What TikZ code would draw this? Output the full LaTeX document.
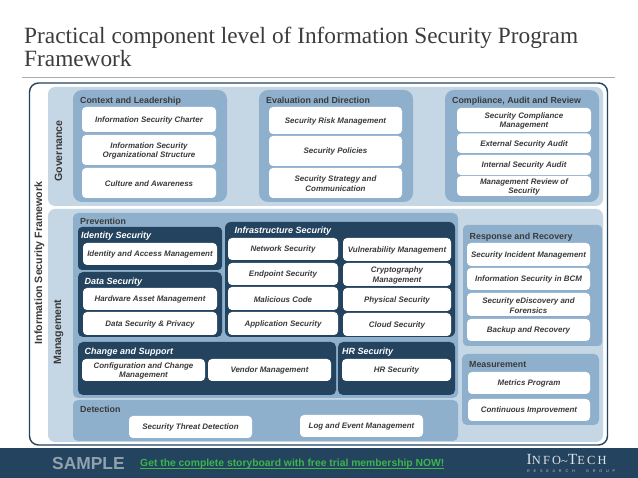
\documentclass[tikz,border=0pt]{standalone}
\usepackage{fontspec}
\setmainfont{Liberation Sans}
\newfontfamily\titlefont{Liberation Serif}
\newfontfamily\logofont[LetterSpace=18]{Liberation Serif}
\usetikzlibrary{positioning}
\definecolor{navy}{HTML}{23435E}
\definecolor{band}{HTML}{C5D6E5}
\definecolor{midblue}{HTML}{8FB0CD}
\definecolor{txt}{HTML}{3A3A3A}
\definecolor{ttl}{HTML}{3C3C3C}
\definecolor{linkgreen}{HTML}{3CB54A}
\tikzset{
  panel/.style={inner sep=0pt,outer sep=0pt,rounded corners=#1},
  panel/.default=6pt,
  itemtext/.style={font=\fontsize{7.95}{9.6}\selectfont\bfseries\itshape,text=txt,align=center},
  headtext/.style={font=\fontsize{8.85}{11}\selectfont\bfseries,text=txt,anchor=base west,inner sep=0pt},
  darkhead/.style={font=\fontsize{9}{11}\selectfont\bfseries\itshape,text=white,anchor=base west,inner sep=0pt},
  sidetext/.style={font=\fontsize{10.6}{12}\selectfont\bfseries,text=txt,rotate=90,inner sep=0pt},
}
% name, x0, y0, x1, y1, fill, radius
\newcommand{\rbox}[7]{\node[panel=#7,fill=#6,minimum width={((#4)-(#2))*1pt},minimum height={((#5)-(#3))*1pt}] (#1) at ({((#2)+(#4))/2},{((#3)+(#5))/2}) {};}
% name, x0, y0, x1, y1, text
\newcommand{\wbox}[6]{\node[panel=4pt,fill=white,minimum width={((#4)-(#2))*1pt},minimum height={((#5)-(#3))*1pt}] (#1) at ({((#2)+(#4))/2},{((#3)+(#5))/2}) {};
\node[itemtext] (#1t) at ([yshift=-0.9pt]#1.center) {#6};}
\begin{document}
\begin{tikzpicture}[x=1pt,y=-1pt]
\useasboundingbox (0,0) rectangle (638,478);
\fill[white] (0,0) rectangle (638,478);
% title
\node[font=\titlefont\fontsize{23.3}{27}\selectfont,text=ttl,anchor=base west,inner sep=0pt] (title1) at (24,43.5) {Practical component level of Information Security Program};
\node[font=\titlefont\fontsize{23.3}{27}\selectfont,text=ttl,anchor=base west,inner sep=0pt] (title2) at (24,66.5) {Framework};
\coordinate (ruleL) at (22,78);
\coordinate (ruleR) at (615,78);
\draw[color=black!33,line width=1pt] (ruleL) -- (ruleR);
% frame
\node[panel=9pt,draw=navy,line width=1.4pt,fill=white,minimum width=578pt,minimum height=362pt] (frame) at (318.5,264) {};
% bands
\rbox{gov}{48}{87}{603}{206}{band}{7pt}
\rbox{mgt}{48}{209}{603}{442}{band}{7pt}
\node[sidetext] (lblFramework) at (39.5,263) {Information Security Framework};
\node[sidetext] (lblGov) at (58.5,151) {Governance};
\node[sidetext] (lblMgt) at (58.5,332) {Management};
% governance panels
\rbox{ctx}{73}{90}{227}{202}{midblue}{9pt}
\rbox{eval}{259}{90}{413}{202}{midblue}{9pt}
\rbox{comp}{445}{90}{599}{202}{midblue}{9pt}
\node[headtext] (hCtx) at (80,103.4) {Context and Leadership};
\node[headtext] (hEval) at (266,103.4) {Evaluation and Direction};
\node[headtext] (hComp) at (452,103.4) {Compliance, Audit and Review};
\wbox{w1}{82}{107}{216}{132}{Information Security Charter}
\wbox{w2}{82}{135}{216}{165}{Information Security\\Organizational Structure}
\wbox{w3}{82}{168}{216}{198}{Culture and Awareness}
\wbox{w4}{269}{107}{402}{134}{Security Risk Management}
\wbox{w5}{269}{136}{402}{166}{Security Policies}
\wbox{w6}{269}{168}{402}{198}{Security Strategy and\\Communication}
\wbox{w7}{457}{108}{591}{132}{Security Compliance\\Management}
\wbox{w8}{457}{133.5}{591}{153}{External Security Audit}
\wbox{w9}{457}{155}{591}{175}{Internal Security Audit}
\wbox{w10}{457}{176}{591}{196}{Management Review of\\Security}
% prevention
\rbox{prev}{73}{213}{458}{398}{midblue}{5pt}
\rbox{det}{73}{400}{458}{441}{midblue}{5pt}
\node[headtext] (hPrev) at (80,224.4) {Prevention};
\node[headtext] (hDet) at (80,412.4) {Detection};
\rbox{idn}{78}{227}{222}{270}{navy}{4pt}
\rbox{dat}{78}{272}{222}{337}{navy}{5pt}
\rbox{inf}{225}{222}{455}{337}{navy}{6pt}
\rbox{chg}{78}{342}{336}{395}{navy}{5pt}
\rbox{hrs}{338}{342}{455}{395}{navy}{5pt}
\node[darkhead] (hIdn) at (81,238.5) {Identity Security};
\node[darkhead] (hDat) at (84.5,284.5) {Data Security};
\node[darkhead] (hInf) at (234.5,234) {Infrastructure Security};
\node[darkhead] (hChg) at (84.5,354.5) {Change and Support};
\node[darkhead] (hHrs) at (342,354.5) {HR Security};
\wbox{w11}{83}{243}{217}{265}{Identity and Access Management}
\wbox{w12}{83}{288}{217}{310}{Hardware Asset Management}
\wbox{w13}{83}{312}{217}{335}{Data Security \& Privacy}
\wbox{w14}{228}{238}{338}{260}{Network Security}
\wbox{w15}{228}{263}{338}{285}{Endpoint Security}
\wbox{w16}{228}{287}{338}{310}{Malicious Code}
\wbox{w17}{228}{312}{338}{335}{Application Security}
\wbox{w18}{343}{238}{451}{261}{Vulnerability Management}
\wbox{w19}{343}{263}{451}{286}{Cryptography\\Management}
\wbox{w20}{343}{288}{451}{311}{Physical Security}
\wbox{w21}{343}{313}{451}{336}{Cloud Security}
\wbox{w22}{82}{359}{205}{381}{Configuration and Change\\Management}
\wbox{w23}{208}{359}{331}{381}{Vendor Management}
\wbox{w24}{342}{359}{451}{381}{HR Security}
\wbox{w25}{129}{416}{252}{438}{Security Threat Detection}
\wbox{w26}{300}{415}{423}{437}{Log and Event Management}
% response
\rbox{resp}{463}{225}{602}{346}{midblue}{4pt}
\rbox{meas}{462}{354}{599}{425}{midblue}{5pt}
\node[headtext] (hResp) at (469.5,239.4) {Response and Recovery};
\node[headtext] (hMeas) at (469,367.9) {Measurement};
\wbox{w27}{467}{243}{590}{266}{Security Incident Management}
\wbox{w28}{467}{268}{590}{290}{Information Security in BCM}
\wbox{w29}{467}{293}{590}{316}{Security eDiscovery and\\Forensics}
\wbox{w30}{467}{319}{590}{341}{Backup and Recovery}
\wbox{w31}{468}{372}{590}{394}{Metrics Program}
\wbox{w32}{468}{399}{590}{421}{Continuous Improvement}
% footer
\rbox{foot}{0}{448}{638}{478}{navy}{0pt}
\node[font=\fontsize{17.4}{20}\selectfont\bfseries,text=white!50!navy,anchor=base west,inner sep=0pt] (sample) at (52,470) {SAMPLE};
\node[font=\fontsize{10.35}{12}\selectfont\bfseries,text=linkgreen,anchor=base west,inner sep=0pt] (link) at (140,467) {Get the complete storyboard with free trial membership NOW!};
\coordinate (ulL) at (140,468.8);
\coordinate (ulR) at (444,468.8);
\draw[linkgreen,line width=0.7pt] (ulL) -- (ulR);
\node[font=\logofont\fontsize{15.5}{18}\selectfont,text=white!85!navy,anchor=base west,inner sep=0pt] (logo) at (526.5,465) {I\fontsize{12.4}{14}\selectfont NFO\raisebox{-0.3pt}{\textasciitilde}\fontsize{15.5}{18}\selectfont T\fontsize{12.4}{14}\selectfont ECH};
\node[font=\fontsize{3.8}{5}\selectfont,text=white!70!navy,anchor=base west,inner sep=0pt] (logosub) at (527,472.5) {\makebox[88pt][s]{R\hfil E\hfil S\hfil E\hfil A\hfil R\hfil C\hfil H\hfil\hfil\hfil G\hfil R\hfil O\hfil U\hfil P}};
\end{tikzpicture}
\end{document}
